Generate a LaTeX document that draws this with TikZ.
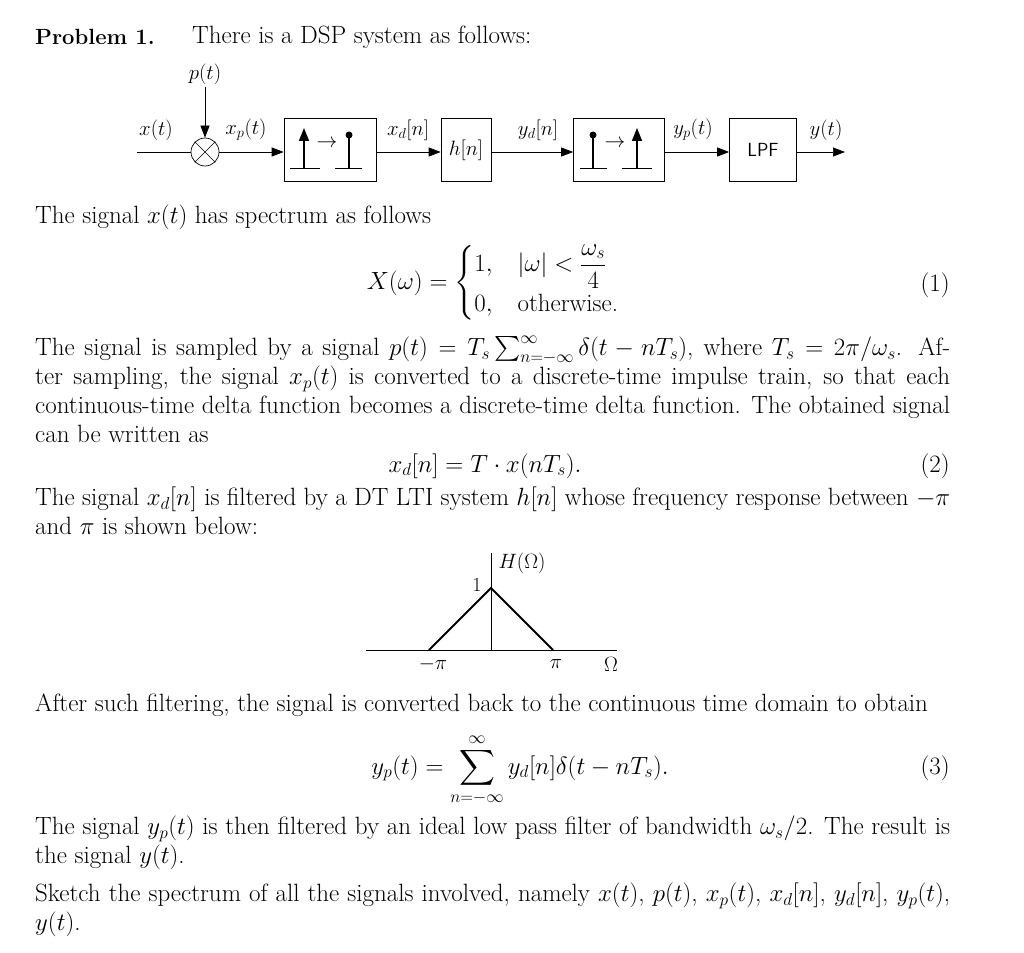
\documentclass[tikz,border=0pt]{standalone}
\usepackage{amsmath}
\usetikzlibrary{arrows.meta}
\begin{document}
\begin{tikzpicture}[x=1pt,y=-1pt,
  every node/.style={font=\fontsize{25}{29}\selectfont, inner sep=0pt},
  para/.style={anchor=north west, text width=915pt, align=justify, font=\fontsize{25}{29}\selectfont},
  blk/.style={draw, line width=0.7pt},
  sig/.style={draw, line width=0.7pt, -{Triangle[length=12pt,width=9pt]}},
  lbl/.style={font=\fontsize{20}{22}\selectfont},
  eqn/.style={anchor=east}]
\useasboundingbox (0,0) rectangle (1024,952);
\fill[white] (0,0) rectangle (1024,952);
% header
\node[anchor=west, font=\fontsize{22}{29}\selectfont] (hd) at (35,37) {\textbf{Problem 1.}};
\node[anchor=west] (hd2) at (192,37) {There is a DSP system as follows:};
% block diagram
\coordinate (xin) at (137,152);
\node[draw, circle, minimum size=28pt, line width=0.7pt] (mul) at (205,152) {};
\draw[line width=0.7pt] (mul.north west) -- (mul.south east) (mul.north east) -- (mul.south west);
\node[lbl] (pt) at (205,74) {$p(t)$};
\draw[sig] (205,87) -- (mul.north);
\node[lbl] (xt) at (156,130) {$x(t)$};
\node[lbl] (xpt) at (246,130) {$x_p(t)$};
\node[blk, minimum width=92pt, minimum height=63pt] (b1) at (330,150) {};
\node[lbl] (xdn) at (408,130) {$x_d[n]$};
\node[blk, minimum width=50pt, minimum height=63pt, font=\fontsize{21}{22}\selectfont] (b2) at (466,150) {$h[n]$};
\node[lbl] (ydn) at (538,130) {$y_d[n]$};
\node[blk, minimum width=91pt, minimum height=63pt] (b3) at (619,150) {};
\node[lbl] (ypt) at (693,130) {$y_p(t)$};
\node[blk, minimum width=67pt, minimum height=63pt, font=\sffamily\fontsize{19}{20}\selectfont] (lpf) at (763,150) {LPF};
\coordinate (yout) at (845,152);
\node[lbl] (yt) at (826,130) {$y(t)$};
\draw[line width=0.7pt] (xin) -- (mul.west);
\draw[sig] (mul.east) -- (b1.west|-mul);
\draw[sig] (b1.east|-mul) -- (b2.west|-mul);
\draw[sig] (b2.east|-mul) -- (b3.west|-mul);
\draw[sig] (b3.east|-mul) -- (lpf.west|-mul);
\draw[sig] (lpf.east|-mul) -- (yout);
% box 1 content
\draw[line width=0.8pt] (290,168) -- (320,168) (335,168) -- (362,168);
\draw[line width=1.6pt, -{Triangle[length=13pt,width=10pt]}] (304,168) -- (304,128);
\draw[line width=1.6pt] (349,168) -- (349,137);
\fill (349,135) circle (3.5pt);
\node[lbl] at (327,144) {$\rightarrow$};
% box 3 content
\draw[line width=0.8pt] (580,168) -- (607,168) (622,168) -- (652,168);
\draw[line width=1.6pt] (593,168) -- (593,137);
\fill (593,135) circle (3.5pt);
\draw[line width=1.6pt, -{Triangle[length=13pt,width=10pt]}] (637,168) -- (637,128);
\node[lbl] at (615,144) {$\rightarrow$};
% text
\node[anchor=west] (t1) at (35,217) {The signal $x(t)$ has spectrum as follows};
\node (e1) at (493,283) {$X(\omega)=\begin{cases}1, & |\omega|<\dfrac{\omega_s}{4}\\[-2pt] 0, & \text{otherwise.}\end{cases}$};
\node[eqn] (n1) at (950,285) {(1)};
\node[para] (p1) at (35,336) {The signal is sampled by a signal $p(t)=T_s\sum_{n=-\infty}^{\infty}\delta(t-nT_s)$, where $T_s=2\pi/\omega_s$. Af-\linebreak ter sampling, the signal $x_p(t)$ is converted to a discrete-time impulse train, so that each continuous-time delta function becomes a discrete-time delta function. The obtained signal\linebreak can be written as};
\node (e2) at (485,466) {$x_d[n]=T\cdot x(nT_s).$};
\node[eqn] (n2) at (950,466) {(2)};
\node[para] (p2) at (35,487) {The signal $x_d[n]$ is filtered by a DT LTI system $h[n]$ whose frequency response between $-\pi$\linebreak and $\pi$ is shown below:};
% H plot
\draw[line width=0.6pt] (366,650) -- (617,650);
\draw[line width=0.6pt] (491,553) -- (491,650);
\draw[line width=1.8pt] (429,650) -- (491,588) -- (553,650);
\node[lbl] (hl) at (522,563) {$H(\Omega)$};
\node[lbl] (one) at (477,585) {1};
\node[lbl] (mpi) at (433,664) {$-\pi$};
\node[lbl] (ppi) at (556,664) {$\pi$};
\node[lbl] (om) at (611,664) {$\Omega$};
\node[anchor=west] (t3) at (35,705) {After such filtering, the signal is converted back to the continuous time domain to obtain};
\node (e3) at (520,770) {$\displaystyle y_p(t)=\sum_{n=-\infty}^{\infty}y_d[n]\delta(t-nT_s).$};
\node[eqn] (n3) at (950,768) {(3)};
\node[para] (p3) at (35,816) {The signal $y_p(t)$ is then filtered by an ideal low pass filter of bandwidth $\omega_s/2$. The result is\linebreak the signal $y(t)$.};
\node[para] (p4) at (35,883) {Sketch the spectrum of all the signals involved, namely $x(t)$, $p(t)$, $x_p(t)$, $x_d[n]$, $y_d[n]$, $y_p(t)$,\linebreak $y(t)$.};
\end{tikzpicture}
\end{document}
